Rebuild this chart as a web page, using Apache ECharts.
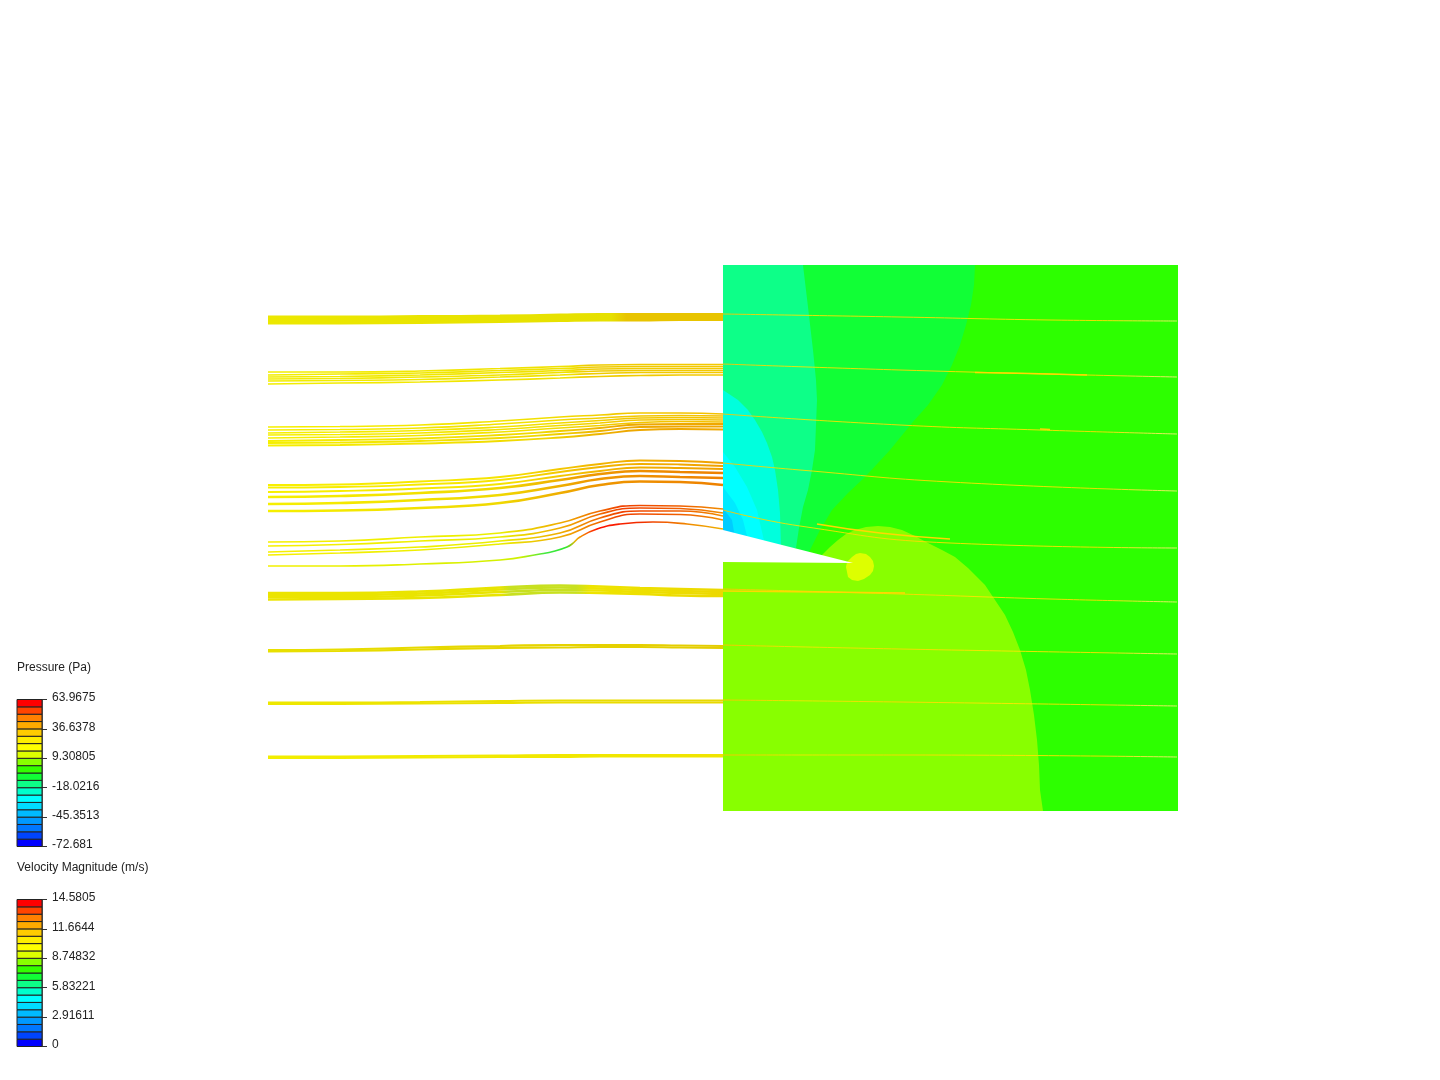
<!DOCTYPE html>
<html lang="en">
<head>
    <meta charset="UTF-8">
    <title>Pressure and velocity</title>
    <script src="https://cdn.jsdelivr.net/npm/echarts@6/dist/echarts.min.js"></script>
    <style>
        html, body { margin: 0; padding: 0; background: #fff; }
        #chart-container { width: 1440px; height: 1080px; }
    </style>
</head>
<body>
    <div id="chart-container"></div>
    <script>
        // colour bars, bottom to top
        const bandColors = ['#0000ff', '#0044ff', '#0077ff', '#0099ff', '#00bbff', '#00ddff', '#00ffff', '#00ffcc',
            '#0dff88', '#11ff36', '#33ff00', '#88ff00', '#ddff00', '#ffff00', '#ffee00', '#ffcc00',
            '#ffaa00', '#ff8000', '#ff4400', '#ff0000'];
        const pressureLabels = ['-72.681', '-45.3513', '-18.0216', '9.30805', '36.6378', '63.9675'];
        const velocityLabels = ['0', '2.91611', '5.83221', '8.74832', '11.6644', '14.5805'];

        // contour regions of the slice plane
        const planeOutline = [[723, 265], [1178, 265], [1178, 811], [723, 811]];
        const contourGreen = [[723, 265], [975, 265], [974, 285], [971, 305], [966, 325], [960, 345], [952, 365], [942, 385], [928, 405], [912, 423], [890, 450], [865, 477], [848, 493], [832, 510], [820, 530], [809, 552], [796, 560], [723, 560]];
        const contourSpring = [[723, 265], [803, 265], [808, 307], [813, 350], [816, 380], [817, 400], [816, 425], [815, 450], [812, 470], [808, 490], [803, 507], [799, 528], [796, 548], [723, 548]];
        const contourAqua = [[723, 390], [738, 400], [748, 410], [755, 420], [762, 432], [767, 443], [772, 457], [775, 470], [778, 490], [780, 513], [781, 548], [723, 548]];
        const contourCyan = [[723, 452], [735, 467], [747, 487], [757, 510], [765, 545], [723, 545]];
        const contourSky = [[723, 487], [735, 503], [743, 520], [748, 540], [723, 540]];
        const contourAzure = [[723, 508], [732, 520], [735, 538], [723, 538]];
        const contourLime = [[723, 562], [810, 562], [822, 555], [830, 547], [838, 540], [846, 534], [855, 530], [866, 527], [878, 526], [890, 527], [902, 530], [915, 536], [928, 543], [942, 550], [955, 557], [968, 568], [985, 585], [995, 600], [1005, 615], [1013, 632], [1020, 650], [1026, 670], [1030, 690], [1034, 715], [1037, 740], [1039, 765], [1040, 790], [1043, 811], [723, 811]];
        const contourBlob = [[846, 567], [847, 562], [852, 557], [856, 554], [860, 553], [866, 554], [870, 557], [873, 561], [874, 566], [873, 571], [870, 575], [864, 579], [858, 581], [852, 580], [848, 577]];
        const wedge = [[723, 530], [853, 563], [723, 562]];

        // streamline stations left of the plane
        const stationX = [268, 340, 420, 500, 560, 600, 640, 680, 723];
        const bundle1 = [
            [317, 317, 316.5, 316, 315, 314.5, 314.5, 314.5, 314.5],
            [319, 319, 318.5, 318, 317, 316.5, 316.5, 316.5, 316.5],
            [321, 321, 320.5, 320, 319, 318.5, 318.5, 318.5, 318.5],
            [323, 323, 322.5, 321.5, 320.5, 320, 320, 319.5, 319.5]
        ];
        const bundle2 = [
            [372, 372, 371, 368.5, 366.5, 365, 364.5, 364.5, 364.5],
            [375, 374, 373, 370.5, 368.5, 367, 366.5, 366.5, 366.5],
            [377, 376.5, 375, 372.5, 370.5, 369, 368.5, 368.5, 368.5],
            [379, 378.5, 377, 375, 372.5, 371, 370.5, 370.5, 370.5],
            [381, 380.5, 379.5, 377, 375, 373.5, 372.5, 372.5, 372.5],
            [384, 383, 382, 380, 378, 376.5, 375.5, 375, 375]
        ];
        const bundle3Upper = [
            [427, 426.5, 425, 421, 417, 415, 413, 413, 414],
            [430, 429.5, 428, 424, 420, 418, 416, 415.5, 416],
            [433, 432, 430.5, 427, 423, 420.5, 418, 417.5, 418],
            [435, 434.5, 433, 429.5, 425.5, 423, 420, 419.5, 420],
            [438, 437, 435.5, 432, 428, 425.5, 422.5, 421.5, 422]
        ];
        const bundle3Lower = [
            [441, 440, 438.5, 435, 431, 428, 424.5, 424, 424],
            [443, 442.5, 441, 438, 434, 431, 427, 426.5, 426.5],
            [445.5, 445, 443.5, 441, 437.5, 434, 430, 429, 429.5]
        ];
        const bundle4Upper = [
            [485, 484.5, 481.5, 477, 469, 464, 460.5, 461, 463],
            [487.5, 487, 484.5, 480, 472, 467, 464, 464.5, 466],
            [492, 491, 488.5, 484, 476, 471, 467.5, 468, 469]
        ];
        const bundle4Lower = [
            [497, 496, 493, 488, 480, 474, 471, 472, 473],
            [504, 503, 500, 495, 486, 479, 476, 477, 478],
            [511, 510.5, 508, 503, 493, 485, 481.5, 482, 485]
        ];
        const bundle5 = [
            [542, 541, 537, 533, 523, 511, 505.5, 506, 509],
            [546, 544.5, 541, 537, 528, 514, 508, 508.5, 513],
            [552, 550, 547, 541, 533, 518, 511, 511, 516],
            [555, 553, 550, 544, 537, 522, 514, 514.5, 520]
        ];
        const bundle6 = [
            [593, 593, 591.5, 587.5, 585.5, 586.5, 588, 589, 590],
            [595, 595, 593.5, 589.5, 587.5, 588.5, 590, 591, 592],
            [597, 597, 595.5, 592, 590, 590.5, 592, 593, 594],
            [599.5, 599, 598, 595, 592.5, 593, 594, 595.5, 596]
        ];
        const bundle7 = [
            [650, 649.5, 647.5, 646, 645, 645, 645, 645.5, 646],
            [651.5, 651, 649.5, 648, 647.5, 647, 647, 647.5, 648]
        ];
        const bundle8 = [
            [702.5, 702.5, 702, 701, 700.5, 700.5, 700.5, 700.5, 700.5],
            [704, 704, 703.5, 703, 702.5, 702.5, 702.5, 702.5, 702.5]
        ];
        const bundle9 = [
            [756.5, 756.5, 756, 755.5, 755, 755, 755, 755, 755],
            [758, 758, 757.5, 757, 757, 756.5, 756.5, 756.5, 756.5]
        ];
        const hugX = [268, 340, 420, 500, 540, 555, 567, 572, 580, 597, 620, 653, 687, 723];
        const hugY = [566, 566, 564, 560, 554, 551, 547, 544, 537, 529, 524, 522, 524, 529];

        // streamlines crossing the plane
        const planeLines = [
            [[723, 314], [900, 317], [1050, 320], [1177, 321]],
            [[723, 364], [900, 370], [1087, 375], [1177, 377]],
            [[723, 414], [900, 425], [1040, 430], [1177, 434]],
            [[723, 463], [800, 470], [950, 482], [1177, 491]],
            [[723, 510], [800, 526], [950, 543], [1177, 548]],
            [[723, 589], [900, 594], [1050, 599], [1177, 602]],
            [[723, 645], [900, 649], [1177, 654]],
            [[723, 700], [900, 702], [1177, 706]],
            [[723, 755], [900, 755], [1177, 757]]
        ];
        const planeShort = [
            [[817, 524], [880, 533], [950, 539]],
            [[723, 591], [820, 592], [905, 593]],
            [[975, 372.5], [1030, 373.5], [1087, 375]],
            [[1040, 429], [1050, 429.5]]
        ];

        const chartDom = document.getElementById('chart-container');
        const myChart = echarts.init(chartDom);

        // horizontal gradient along a streamline, stops are [x, colour]
        function alongX(stops, xMin, xMax) {
            return {
                type: 'linear', x: 0, y: 0, x2: 1, y2: 0,
                colorStops: stops.map(s => ({ offset: (s[0] - xMin) / (xMax - xMin), color: s[1] }))
            };
        }

        function polygonSeries(points, color, z) {
            return {
                type: 'custom',
                coordinateSystem: 'cartesian2d',
                xAxisIndex: 0,
                yAxisIndex: 0,
                silent: true,
                z: z,
                data: points,
                encode: { x: 0, y: 1 },
                renderItem: (params, api) => {
                    if (params.dataIndex !== 0) return null;
                    return {
                        type: 'polygon',
                        shape: { points: points.map(p => api.coord(p)) },
                        style: { fill: color }
                    };
                }
            };
        }

        function lineSeries(points, color, width, z) {
            return {
                type: 'line',
                xAxisIndex: 0,
                yAxisIndex: 0,
                data: points,
                smooth: 0.5,
                showSymbol: false,
                silent: true,
                z: z,
                lineStyle: { color: color, width: width, cap: 'butt' }
            };
        }

        function bundleSeries(lines, stops, width) {
            return lines.map(ys => lineSeries(ys.map((y, i) => [stationX[i], y]), alongX(stops, 268, 723), width, 5));
        }

        function barCells(index) {
            return {
                type: 'custom',
                xAxisIndex: index,
                yAxisIndex: index,
                silent: true,
                z: 5,
                data: bandColors.map((c, i) => [0, i]),
                encode: { x: 0, y: 1 },
                renderItem: (params, api) => {
                    const a = api.coord([0, api.value(1) + 1]);
                    const b = api.coord([1, api.value(1)]);
                    return {
                        type: 'rect',
                        shape: { x: a[0], y: a[1], width: b[0] - a[0], height: b[1] - a[1] },
                        style: { fill: bandColors[params.dataIndex], stroke: '#222', lineWidth: 1 }
                    };
                }
            };
        }

        function barAxes(labels, gridIndex) {
            return {
                x: { type: 'value', gridIndex: gridIndex, min: 0, max: 1, show: false },
                y: {
                    type: 'value',
                    gridIndex: gridIndex,
                    min: 0,
                    max: 20,
                    interval: 4,
                    position: 'right',
                    axisLine: { show: true, onZero: false, lineStyle: { color: '#666', width: 1 } },
                    axisTick: { show: true, length: 5, lineStyle: { color: '#333', width: 1 } },
                    splitLine: { show: false },
                    axisLabel: {
                        margin: 10,
                        color: '#222',
                        fontSize: 12,
                        fontFamily: 'Liberation Sans',
                        formatter: v => '{t|' + labels[v / 4] + '}',
                        rich: {
                            t: {
                                color: '#222',
                                fontSize: 12,
                                fontFamily: 'Liberation Sans',
                                padding: [0, 0, 3, 0]
                            }
                        }
                    }
                }
            };
        }

        const pressureAxes = barAxes(pressureLabels, 1);
        const velocityAxes = barAxes(velocityLabels, 2);
        const titleStyle = { color: '#222', fontSize: 12, fontWeight: 'normal', fontFamily: 'Liberation Sans' };

        const option = {
            animation: false,
            backgroundColor: '#fff',
            title: [
                { text: 'Pressure (Pa)', left: 17, top: 662, padding: 0, textStyle: titleStyle },
                { text: 'Velocity Magnitude (m/s)', left: 17, top: 862, padding: 0, textStyle: titleStyle }
            ],
            grid: [
                { left: 0, top: 0, width: 1440, height: 1080 },
                { left: 17, top: 699.5, width: 25, height: 147 },
                { left: 17, top: 899.5, width: 25, height: 147 }
            ],
            xAxis: [
                { type: 'value', gridIndex: 0, min: 0, max: 1440, show: false },
                pressureAxes.x,
                velocityAxes.x
            ],
            yAxis: [
                { type: 'value', gridIndex: 0, min: 0, max: 1080, inverse: true, show: false },
                pressureAxes.y,
                velocityAxes.y
            ],
            series: [
                polygonSeries(planeOutline, '#2dff00', 2),
                polygonSeries(contourGreen, '#11ff36', 2),
                polygonSeries(contourSpring, '#0dff88', 2),
                polygonSeries(contourAqua, '#00ffdd', 2),
                polygonSeries(contourCyan, '#00ffff', 2),
                polygonSeries(contourSky, '#00eaff', 2),
                polygonSeries(contourAzure, '#00ccff', 2),
                polygonSeries(contourLime, '#88ff00', 2),
                polygonSeries(contourBlob, '#ddff00', 2),
                polygonSeries(wedge, '#ffffff', 3),
                ...bundleSeries(bundle1, [[268, '#ece800'], [610, '#e6e000'], [625, '#e8c400'], [723, '#e8c400']], 2.8),
                ...bundleSeries(bundle2, [[268, '#f2ee00'], [570, '#f0e000'], [585, '#eecc00'], [723, '#f4c800']], 1.7),
                ...bundleSeries(bundle3Upper, [[268, '#f6f000'], [540, '#f2e000'], [620, '#f2c800'], [723, '#f4c000']], 1.6),
                ...bundleSeries(bundle3Lower, [[268, '#f6f000'], [540, '#f0d800'], [620, '#eda800'], [723, '#f0a800']], 1.8),
                ...bundleSeries(bundle4Upper, [[268, '#f8f000'], [500, '#f6e400'], [600, '#f2b400'], [723, '#f0a000']], 1.8),
                ...bundleSeries(bundle4Lower, [[268, '#f6f000'], [500, '#f0d800'], [590, '#ee9800'], [723, '#ee8000']], 2.6),
                ...bundleSeries(bundle5, [[268, '#f6f000'], [500, '#eaee00'], [570, '#f0a000'], [620, '#f04000'], [680, '#f06000'], [723, '#f09000']], 1.7),
                lineSeries(hugX.map((x, i) => [x, hugY[i]]),
                    alongX([[268, '#f4f000'], [520, '#d0f000'], [545, '#40e840'], [565, '#30e830'], [575, '#f0b000'], [597, '#ff1000'], [640, '#f03000'], [690, '#f09000'], [723, '#f0b000']], 268, 723), 1.6, 5),
                ...bundleSeries(bundle6, [[268, '#ece400'], [500, '#e8e400'], [510, '#c8e020'], [575, '#c8e020'], [590, '#eee400'], [723, '#ecd800']], 2.6),
                ...bundleSeries(bundle7, [[268, '#e8e000'], [723, '#e4cc00']], 2.2),
                ...bundleSeries(bundle8, [[268, '#eee800'], [723, '#e8d800']], 2),
                ...bundleSeries(bundle9, [[268, '#f2ee00'], [723, '#f0e400']], 2),
                ...planeLines.map(pts => lineSeries(pts,
                    alongX([[723, '#ffc000'], [800, '#f2e800'], [900, '#ffd800'], [1000, '#ffe800'], [1100, '#ffdc00'], [1177, '#f4f080']], 723, 1177), 0.9, 6)),
                ...planeShort.map(pts => lineSeries(pts, '#ffd800', 1.6, 6)),
                barCells(1),
                barCells(2)
            ]
        };

        myChart.setOption(option);
    </script>
</body>
</html>
